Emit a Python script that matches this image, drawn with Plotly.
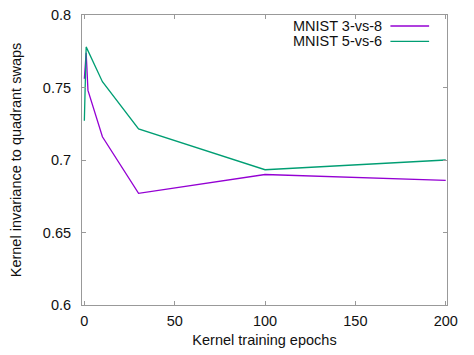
import plotly.graph_objects as go

# Data
epochs_38 = [0, 1, 2, 10, 30, 100, 200]
inv_38 = [0.756, 0.774, 0.748, 0.716, 0.677, 0.690, 0.686]
epochs_56 = [0, 1, 10, 30, 100, 200]
inv_56 = [0.727, 0.778, 0.754, 0.7215, 0.6933, 0.700]

series_names = ["MNIST 3-vs-8", "MNIST 5-vs-6"]
colors = ["#9400d3", "#009e73"]

x_ticks = [0, 50, 100, 150, 200]
y_ticks = [0.6, 0.65, 0.7, 0.75, 0.8]
y_tick_labels = ["0.6", "0.65", "0.7", "0.75", "0.8"]

FONT = "Liberation Sans, Arial, sans-serif"
FS = 14.5
AXC = "#999999"

fig = go.Figure()
for xs, ys, name, c in [(epochs_38, inv_38, series_names[0], colors[0]),
                        (epochs_56, inv_56, series_names[1], colors[1])]:
    fig.add_trace(go.Scatter(x=xs, y=ys, mode="lines", name=name,
                             line=dict(color=c, width=1.3), showlegend=False))

# gnuplot-style legend: text right-aligned, key sample on the right
for i, (name, c) in enumerate(zip(series_names, colors)):
    yp = 0.962 - i * 0.053
    fig.add_annotation(xref="paper", yref="paper", x=0.827, y=yp, text=name,
                       showarrow=False, xanchor="right", yanchor="middle",
                       font=dict(family=FONT, size=FS, color="#111111"))
    fig.add_shape(type="line", xref="paper", yref="paper",
                  x0=0.845, x1=0.951, y0=yp, y1=yp,
                  line=dict(color=c, width=1.3))

fig.update_layout(
    width=466, height=347,
    margin=dict(l=74, r=27, t=7, b=50),
    paper_bgcolor="white", plot_bgcolor="white",
    font=dict(family=FONT, size=FS, color="#111111"),
    xaxis=dict(range=[-1.3, 200.7], tickvals=x_ticks, ticks="inside", ticklen=4,
               tickcolor=AXC, showline=True, linecolor=AXC, linewidth=1,
               mirror="allticks", showgrid=False, zeroline=False,
               ticklabelstandoff=3, automargin=False, ticklabeloverflow="allow",
               title=dict(text="Kernel training epochs", standoff=6,
                          font=dict(family=FONT, size=FS))),
    yaxis=dict(range=[0.6, 0.8], tickvals=y_ticks, ticktext=y_tick_labels,
               ticks="inside", ticklen=4, tickcolor=AXC, showline=True,
               linecolor=AXC, linewidth=1, mirror="allticks", showgrid=False,
               zeroline=False, ticklabelstandoff=7, automargin=False,
               ticklabeloverflow="allow",
               title=dict(text="Kernel invariance to quadrant swaps", standoff=22,
                          font=dict(family=FONT, size=FS))),
)

fig.write_html("out.html")
